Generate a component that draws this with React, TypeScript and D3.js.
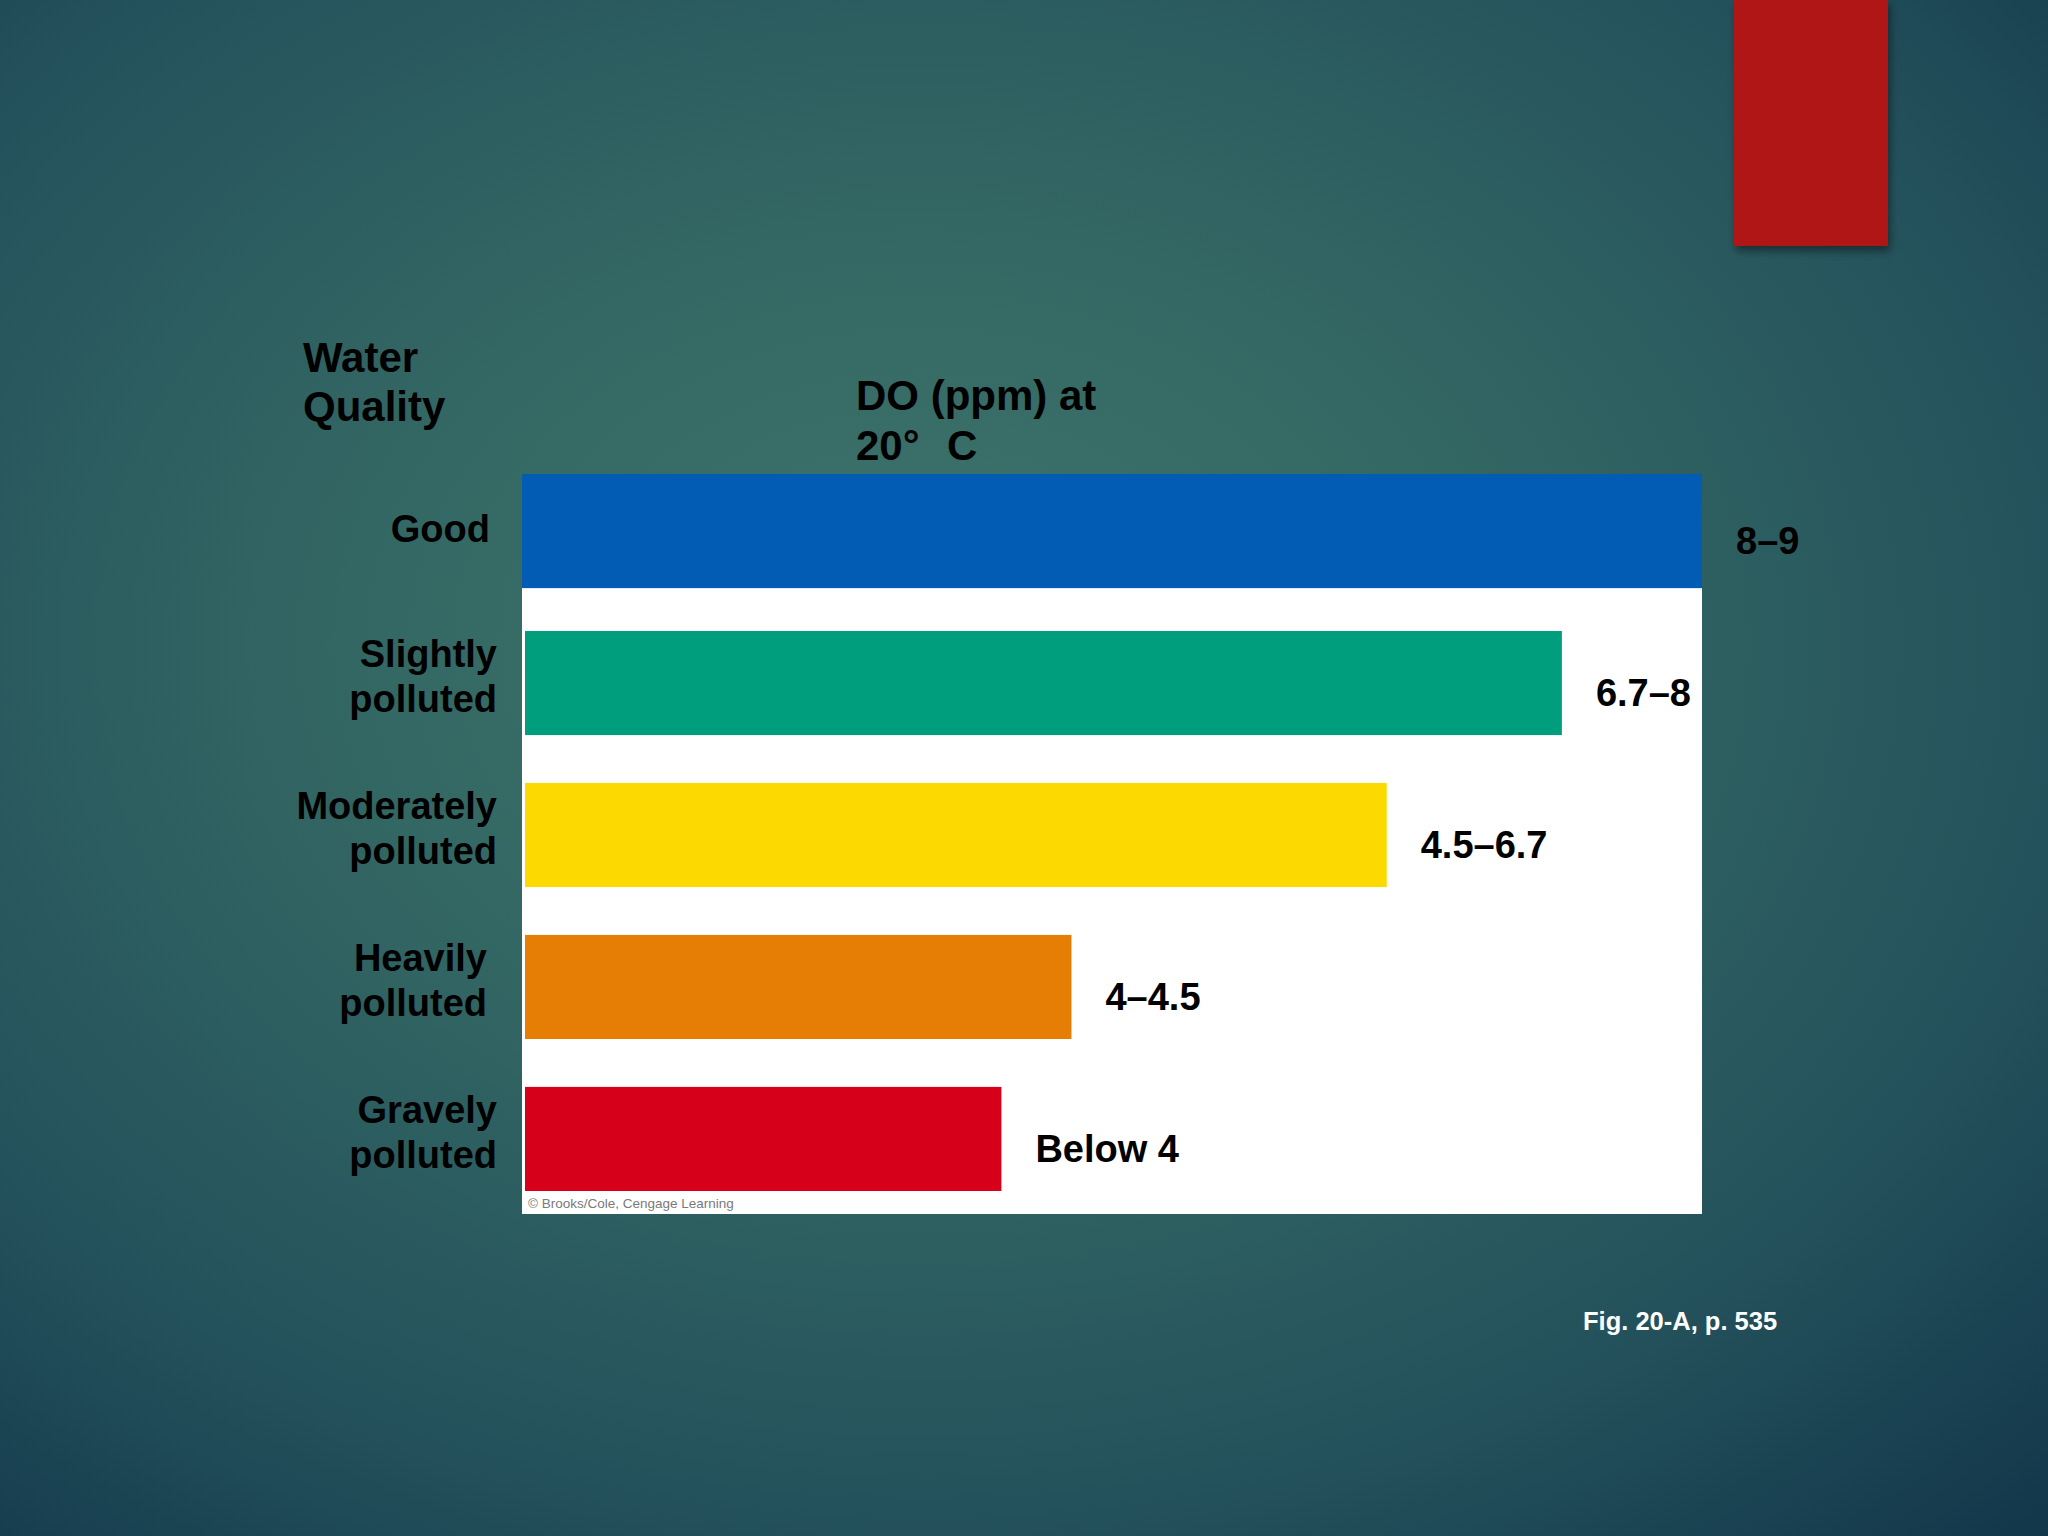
import React from "react";
import * as d3 from "d3";

const categories = ["Good", "Slightly polluted", "Moderately polluted", "Heavily polluted", "Gravely polluted"];
const labelLines = [["Good"], ["Slightly", "polluted"], ["Moderately", "polluted"], ["Heavily", "polluted"], ["Gravely", "polluted"]];
const doValues = [9, 8, 6.75, 4.5, 4];
const rangeLabels = ["8–9", "6.7–8", "4.5–6.7", "4–4.5", "Below 4"];
const barColors = ["#035cb4", "#009e7c", "#fcd900", "#e67e06", "#d6001b"];

const W = 2048;
const H = 1536;
const FONT = "'Liberation Sans', Arial, Helvetica, sans-serif";

export default function App() {
  const panel = { x0: 522, x1: 1702, y0: 474, y1: 1214 };
  const x = d3.scaleLinear().domain([0.6, 9]).range([525, 1702]);
  const y = d3
    .scaleBand<string>()
    .domain(categories)
    .range([455, 1215])
    .paddingInner(0.315)
    .paddingOuter(0.158);
  const bw = y.bandwidth();

  return (
    <svg
      width={W}
      height={H}
      viewBox={`0 0 ${W} ${H}`}
      style={{ position: "absolute", left: 0, top: 0, display: "block" }}
    >
      <defs>
        <radialGradient id="bg" cx="0.45" cy="0.42" r="0.8">
          <stop offset="0" stopColor="#3f746c" />
          <stop offset="0.35" stopColor="#336763" />
          <stop offset="0.7" stopColor="#24525c" />
          <stop offset="1" stopColor="#12364a" />
        </radialGradient>
        <filter id="shadow" x="-20%" y="-10%" width="140%" height="130%">
          <feDropShadow dx="2" dy="5" stdDeviation="4" floodColor="#000" floodOpacity="0.45" />
        </filter>
      </defs>
      <rect x={0} y={0} width={W} height={H} fill="url(#bg)" />
      <rect x={1734} y={0} width={154} height={246} fill="#b01914" filter="url(#shadow)" />

      {/* white figure panel */}
      <rect x={panel.x0} y={panel.y0} width={panel.x1 - panel.x0} height={panel.y1 - panel.y0} fill="#ffffff" />

      {categories.map((c, i) => {
        const yy = y(c) as number;
        const top = i === 0 ? panel.y0 : yy;
        const h = i === 0 ? bw + (yy - panel.y0) * 2 : bw;
        const x0 = i === 0 ? panel.x0 : x.range()[0];
        return (
          <rect key={c} x={x0} y={top} width={x(doValues[i]) - x0} height={h} fill={barColors[i]} />
        );
      })}

      {/* row labels */}
      {categories.map((c, i) => {
        const cy = (y(c) as number) + bw / 2;
        const lines = labelLines[i];
        const first = lines.length === 1 ? cy + 11 : cy - 16;
        const rx = i === 0 ? 490 : i === 3 ? 487 : 497;
        return (
          <text key={c} x={rx} y={first} textAnchor="end" fontFamily={FONT} fontWeight="bold" fontSize={38} fill="#000">
            {lines.map((l, j) => (
              <tspan key={j} x={rx} dy={j === 0 ? 0 : 45}>
                {l}
              </tspan>
            ))}
          </text>
        );
      })}

      {/* value labels */}
      {categories.map((c, i) => {
        const cy = (y(c) as number) + bw / 2;
        return (
          <text key={c} x={x(doValues[i]) + 34} y={cy + 23} fontFamily={FONT} fontWeight="bold" fontSize={38} fill="#000">
            {rangeLabels[i]}
          </text>
        );
      })}

      {/* headings */}
      <text x={303} y={372} fontFamily={FONT} fontWeight="bold" fontSize={42} fill="#000">
        <tspan x={303}>Water</tspan>
        <tspan x={303} dy={49}>Quality</tspan>
      </text>
      <text x={856} y={410} fontFamily={FONT} fontWeight="bold" fontSize={42} fill="#000">
        DO (ppm) at
      </text>
      <text x={856} y={460} fontFamily={FONT} fontWeight="bold" fontSize={42} fill="#000">
        20°<tspan x={947}>C</tspan>
      </text>

      <text x={528} y={1208} fontFamily={FONT} fontSize={13.5} fill="#7a7a7a">
        © Brooks/Cole, Cengage Learning
      </text>

      <text x={1583} y={1330} fontFamily={FONT} fontWeight="bold" fontSize={25.5} fill="#ffffff">
        Fig. 20-A, p. 535
      </text>
    </svg>
  );
}
